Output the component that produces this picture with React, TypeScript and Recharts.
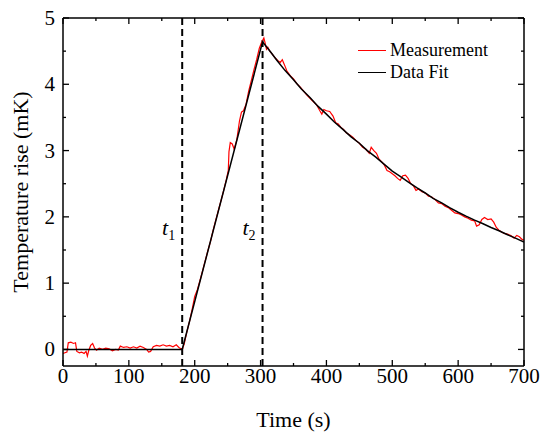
import { LineChart, Line, XAxis, YAxis, ReferenceLine, Legend } from "recharts";

const FONT = '"Liberation Serif", "Times New Roman", serif';

// measured temperature rise (mK) vs time (s)
const measTime = [
  0, 3, 6, 8, 12, 16, 19, 21, 25, 28, 32, 35, 37, 39, 42, 45, 48, 51, 55, 60,
  65, 70, 75, 80, 84, 87, 92, 97, 102, 107, 112, 117, 122, 127, 130, 133, 137,
  142, 147, 152, 157, 162, 167, 172, 176, 179, 181, 184, 188, 192, 196, 200,
  204, 208, 212, 216, 220, 224, 228, 232, 236, 240, 244, 248, 251, 252, 254,
  257, 260, 264, 268, 271, 274, 278, 282, 286, 290, 294, 298, 301, 303, 305,
  307, 309, 311, 314, 318, 322, 326, 330, 333, 336, 340, 345, 350, 355, 360,
  365, 370, 375, 380, 385, 390, 393, 396, 400, 405, 410, 414, 418, 422, 426,
  430, 435, 440, 445, 450, 455, 460, 465, 468, 472, 476, 480, 484, 488, 492,
  496, 500, 504, 508, 512, 516, 520, 524, 528, 532, 536, 540, 545, 550, 555,
  560, 565, 570, 575, 580, 585, 590, 595, 600, 605, 610, 615, 620, 625, 628,
  632, 636, 640, 645, 650, 654, 658, 662, 666, 670, 675, 680, 685, 689, 693,
  697, 700,
];
const measValue = [
  -0.06, -0.05, -0.04, 0.1, 0.11, 0.09, 0.1, -0.03, -0.05, -0.04, -0.06, -0.03,
  -0.1, -0.02, 0.06, 0.09, 0.02, -0.01, 0.02, 0.0, 0.02, 0.01, -0.02, 0.0,
  -0.01, 0.05, 0.03, 0.04, 0.02, 0.04, 0.02, 0.05, 0.03, 0.0, -0.04, -0.03,
  0.04, 0.06, 0.05, 0.07, 0.05, 0.06, 0.04, 0.07, 0.03, 0.01, 0.0, 0.08, 0.26,
  0.42, 0.6, 0.8, 0.9, 1.04, 1.19, 1.34, 1.49, 1.63, 1.8, 1.95, 2.1, 2.25, 2.4,
  2.56, 2.7, 2.98, 3.12, 3.1, 3.02, 3.17, 3.45, 3.58, 3.6, 3.7, 3.9, 4.06,
  4.22, 4.37, 4.54, 4.62, 4.66, 4.7, 4.62, 4.53, 4.56, 4.5, 4.45, 4.4, 4.36,
  4.33, 4.37, 4.3, 4.2, 4.13, 4.08, 4.01, 3.96, 3.9, 3.84, 3.79, 3.74, 3.69,
  3.6, 3.55, 3.62, 3.6, 3.59, 3.52, 3.42, 3.4, 3.35, 3.32, 3.27, 3.24, 3.2,
  3.15, 3.11, 3.05, 3.02, 2.96, 3.05, 3.0, 2.96, 2.87, 2.83, 2.78, 2.7, 2.68,
  2.65, 2.62, 2.58, 2.55, 2.62, 2.63, 2.58, 2.5, 2.47, 2.4, 2.42, 2.38, 2.36,
  2.31, 2.3, 2.26, 2.21, 2.2, 2.16, 2.14, 2.1, 2.06, 2.05, 2.03, 2.0, 1.98,
  1.95, 1.94, 1.86, 1.88, 1.96, 1.99, 1.96, 1.97, 1.92, 1.84, 1.8, 1.77, 1.75,
  1.74, 1.72, 1.68, 1.72, 1.7, 1.66, 1.65,
];

// fitted curve
const fitTime = [
  0, 181, 303, 315, 325, 337, 350, 362, 375, 387, 400, 412, 425, 437, 450, 462,
  475, 487, 500, 512, 525, 537, 550, 562, 575, 587, 600, 612, 625, 637, 650,
  662, 675, 687, 700,
];
const fitValue = [
  0, 0, 4.64, 4.49, 4.36, 4.21, 4.07, 3.93, 3.8, 3.67, 3.55, 3.43, 3.32, 3.21,
  3.11, 3.0, 2.9, 2.8, 2.69, 2.61, 2.52, 2.44, 2.36, 2.28, 2.21, 2.14, 2.07,
  2.01, 1.95, 1.9, 1.84, 1.79, 1.73, 1.68, 1.62,
];

const markerTimes = [181, 303];
const markerNames = ["1", "2"];
const legendOrder = ["Measurement", "Data Fit"];

const xTicks = [0, 50, 100, 150, 200, 250, 300, 350, 400, 450, 500, 550, 600, 650, 700];
const yTicks = [0, 0.5, 1, 1.5, 2, 2.5, 3, 3.5, 4, 4.5, 5];

const measData = measTime.map((t, i) => ({ t, v: measValue[i] }));
const fitData = fitTime.map((t, i) => ({ t, v: fitValue[i] }));

const axisLine = { stroke: "#000", strokeWidth: 1.5 };

function BottomTick({ x, y, payload }: any) {
  const major = payload.value % 100 === 0;
  return (
    <g>
      <line x1={x} y1={y} x2={x} y2={y - (major ? 6 : 3)} stroke="#000" strokeWidth={1.3} />
      {major && (
        <text x={x} y={y + 17} textAnchor="middle" fontSize={21} fontFamily={FONT} fill="#000">
          {payload.value}
        </text>
      )}
    </g>
  );
}

function TopTick({ x, y, payload }: any) {
  const major = payload.value % 100 === 0;
  return <line x1={x} y1={y} x2={x} y2={y + (major ? 6 : 3)} stroke="#000" strokeWidth={1.3} />;
}

function LeftTick({ x, y, payload }: any) {
  const major = Number.isInteger(payload.value);
  return (
    <g>
      <line x1={x} y1={y} x2={x + (major ? 6 : 3)} y2={y} stroke="#000" strokeWidth={1.3} />
      {major && (
        <text x={x - 8} y={y + 7} textAnchor="end" fontSize={21} fontFamily={FONT} fill="#000">
          {payload.value}
        </text>
      )}
    </g>
  );
}

function RightTick({ x, y, payload }: any) {
  const major = Number.isInteger(payload.value);
  return <line x1={x} y1={y} x2={x - (major ? 6 : 3)} y2={y} stroke="#000" strokeWidth={1.3} />;
}

function XTitle({ viewBox }: any) {
  return (
    <text x={viewBox.x + viewBox.width / 2} y={viewBox.y + 61} textAnchor="middle" fontSize={22} fontFamily={FONT} fill="#000">
      Time (s)
    </text>
  );
}

function YTitle({ viewBox }: any) {
  const cx = viewBox.x + viewBox.width - 35;
  const cy = viewBox.y + viewBox.height / 2;
  return (
    <text x={cx} y={cy} transform={`rotate(-90 ${cx} ${cy})`} textAnchor="middle" fontSize={22} fontFamily={FONT} fill="#000">
      Temperature rise (mK)
    </text>
  );
}

function markerLabel(sub: string) {
  return ({ viewBox }: any) => (
    <text x={viewBox.x - 7} y={viewBox.y + 217} textAnchor="end" fontFamily={FONT} fill="#000">
      <tspan fontSize={22} fontStyle="italic">t</tspan>
      <tspan fontSize={14} dy={5}>{sub}</tspan>
    </text>
  );
}

function LegendBox({ payload }: any) {
  const items = [...(payload || [])].sort(
    (a: any, b: any) => legendOrder.indexOf(a.value) - legendOrder.indexOf(b.value)
  );
  return (
    <div>
      {items.map((e: any) => (
        <div key={e.value} style={{ display: "flex", alignItems: "center", height: 22 }}>
          <span style={{ width: 28, borderTop: `1.5px solid ${e.color}`, marginRight: 4 }} />
          <span style={{ fontFamily: FONT, fontSize: 18, color: "#000" }}>{e.value}</span>
        </div>
      ))}
    </div>
  );
}

export default function App() {
  return (
    <div style={{ position: "absolute", left: 0, top: 0, background: "#fff" }}>
      <LineChart width={550} height={437} margin={{ top: 17, right: 25, bottom: 41, left: 33 }}>
        <XAxis
          xAxisId="b"
          type="number"
          dataKey="t"
          domain={[0, 700]}
          ticks={xTicks}
          interval={0}
          allowDataOverflow
          height={30}
          tickSize={0}
          tickMargin={0}
          tick={BottomTick}
          axisLine={axisLine}
          label={{ content: XTitle }}
        />
        <XAxis
          xAxisId="top"
          orientation="top"
          type="number"
          dataKey="t"
          domain={[0, 700]}
          ticks={xTicks}
          interval={0}
          allowDataOverflow
          height={1}
          tickSize={0}
          tickMargin={0}
          tick={TopTick}
          axisLine={axisLine}
        />
        <YAxis
          yAxisId="l"
          type="number"
          domain={[-0.25, 5]}
          ticks={yTicks}
          interval={0}
          allowDataOverflow
          width={30}
          tickSize={0}
          tickMargin={0}
          tick={LeftTick}
          axisLine={axisLine}
          label={{ content: YTitle }}
        />
        <YAxis
          yAxisId="r"
          orientation="right"
          type="number"
          domain={[-0.25, 5]}
          ticks={yTicks}
          interval={0}
          allowDataOverflow
          width={1}
          tickSize={0}
          tickMargin={0}
          tick={RightTick}
          axisLine={axisLine}
        />
        {markerTimes.map((t, i) => (
          <ReferenceLine
            key={t}
            x={t}
            xAxisId="b"
            yAxisId="l"
            stroke="#000"
            strokeWidth={2}
            strokeDasharray="7 4"
            label={{ content: markerLabel(markerNames[i]) }}
          />
        ))}
        <Line
          data={measData}
          xAxisId="b"
          yAxisId="l"
          dataKey="v"
          name="Measurement"
          type="linear"
          stroke="#ff0000"
          strokeWidth={1.2}
          dot={false}
          isAnimationActive={false}
        />
        <Line
          data={fitData}
          xAxisId="top"
          yAxisId="r"
          dataKey="v"
          name="Data Fit"
          type="linear"
          stroke="#000"
          strokeWidth={1.5}
          dot={false}
          isAnimationActive={false}
        />
        <Legend
          layout="vertical"
          align="center"
          verticalAlign="middle"
          wrapperStyle={{ left: 358, top: 39, width: 170 }}
          content={LegendBox}
        />
      </LineChart>
    </div>
  );
}
